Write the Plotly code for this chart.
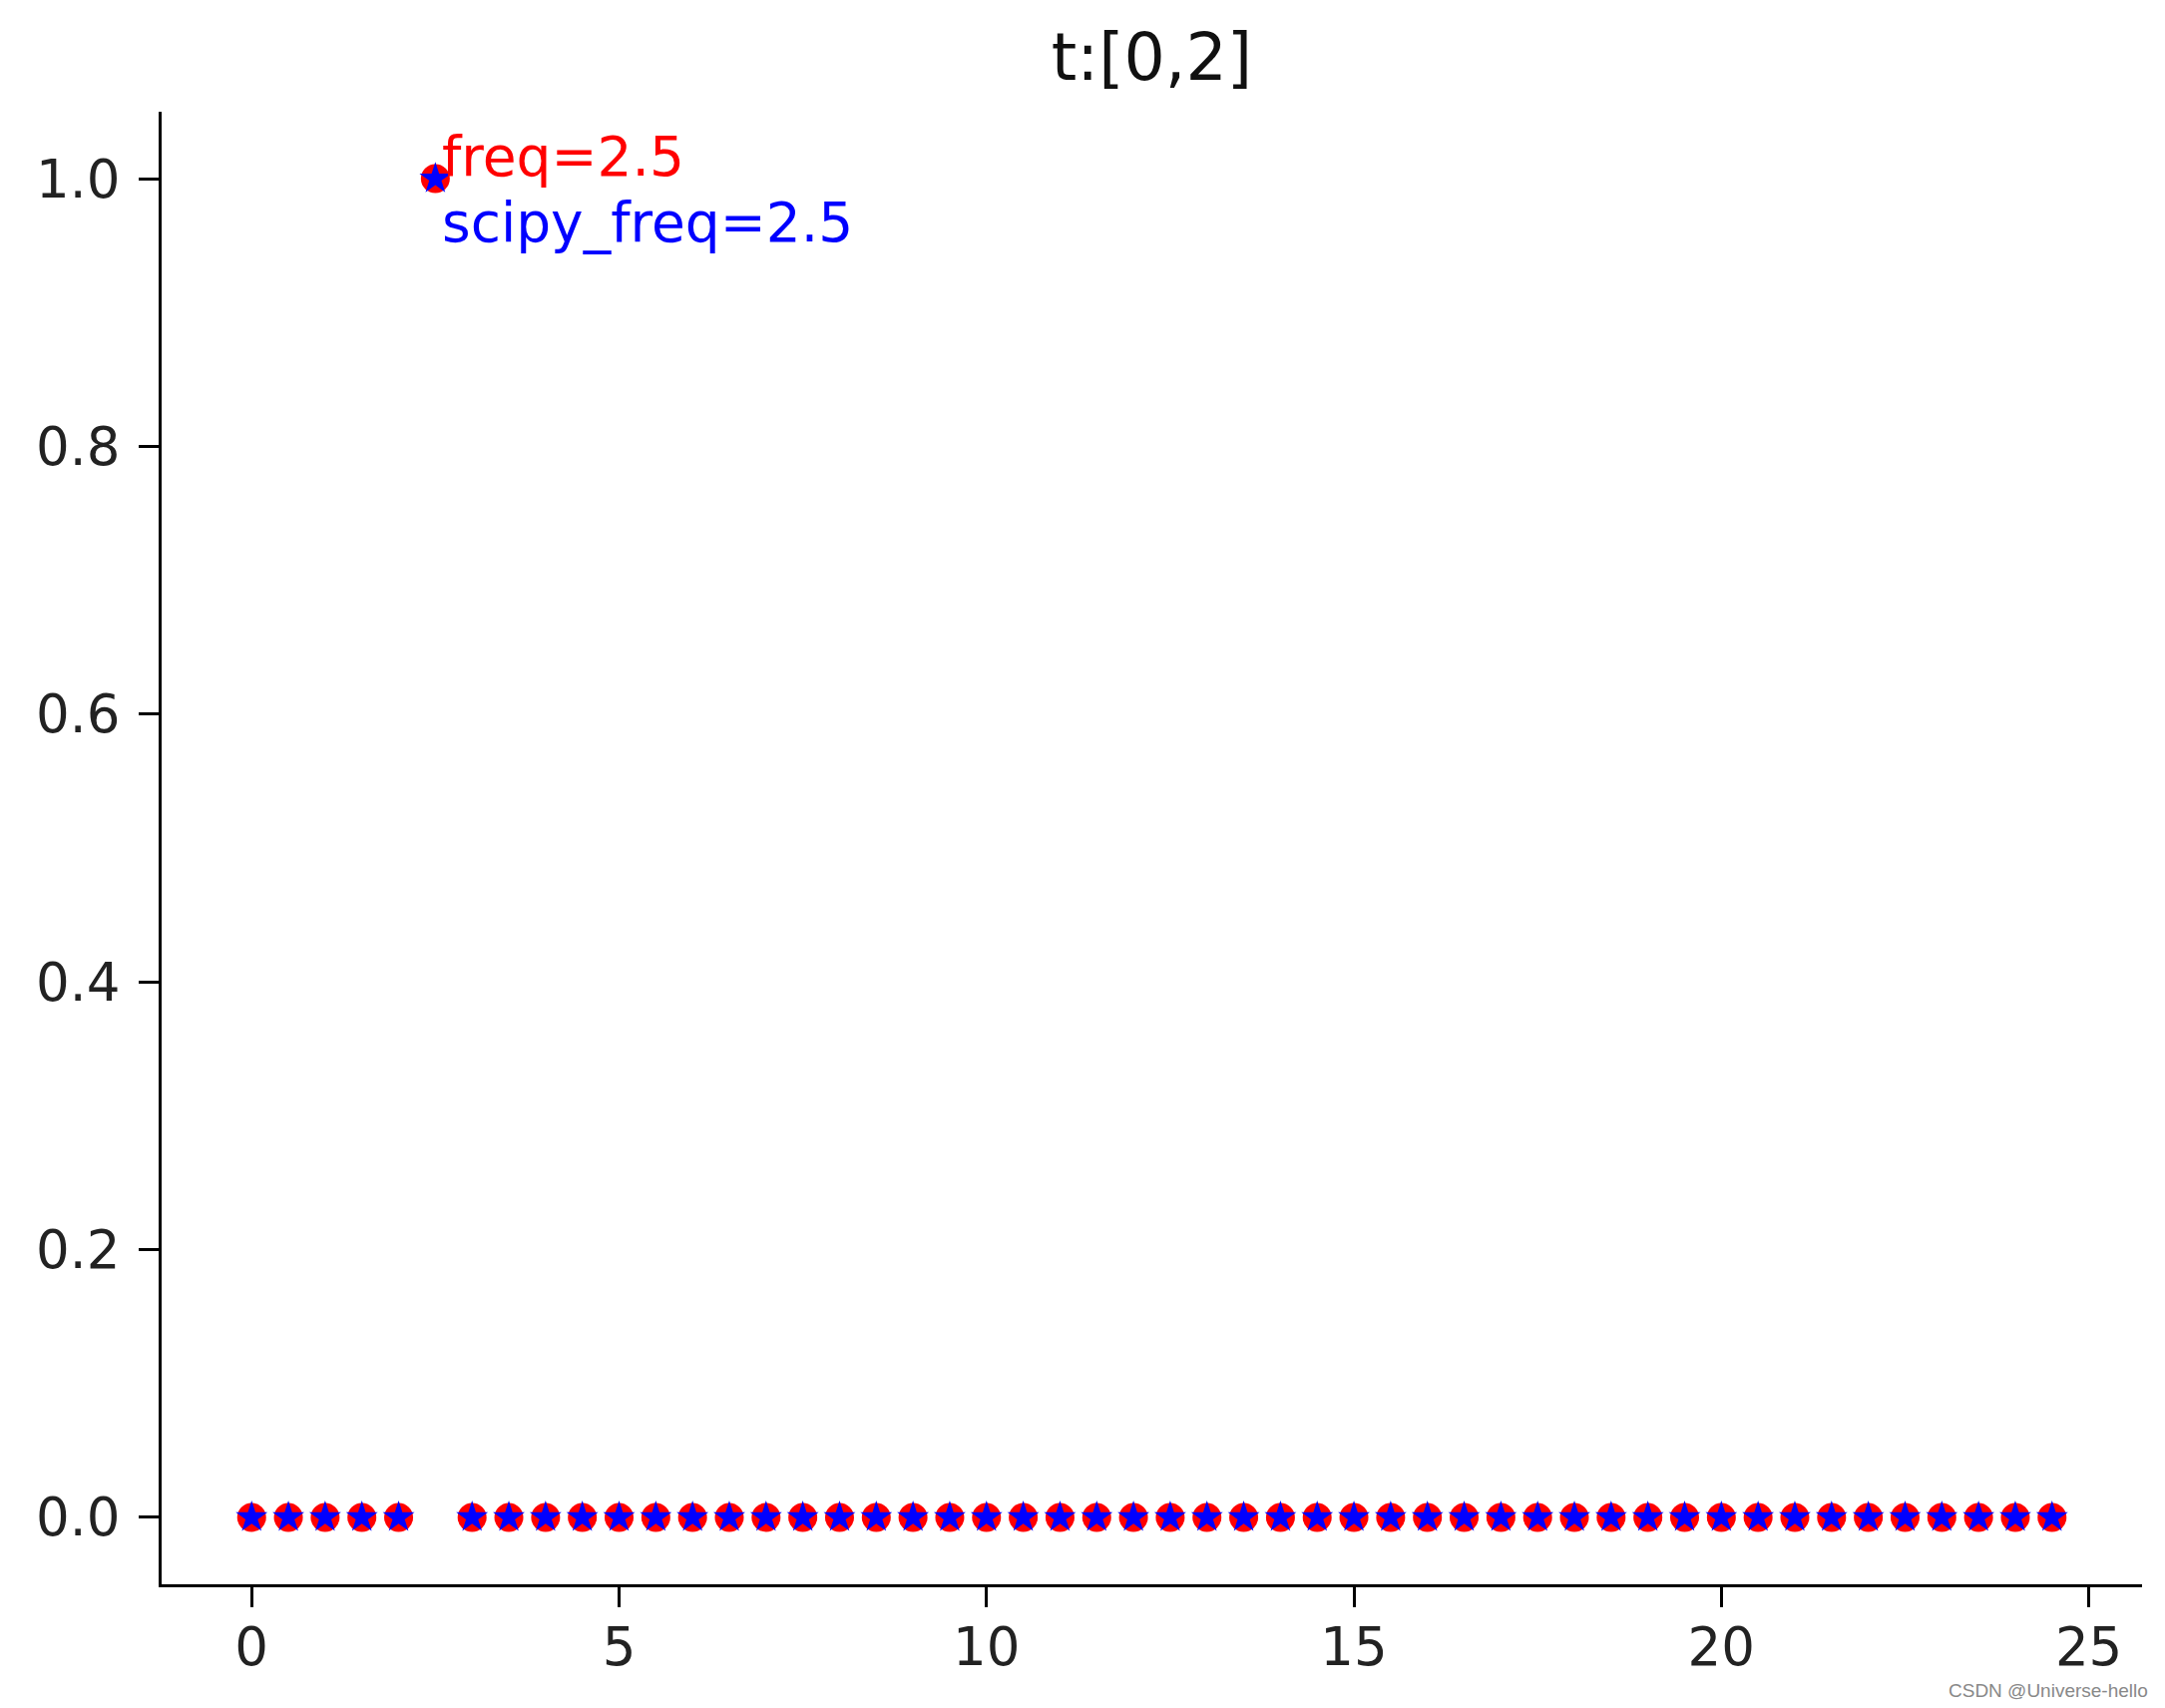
import plotly.graph_objects as go

# Data
x_vals = [i * 0.5 for i in range(50)]
freq_vals = [0, 0, 0, 0, 0, 1] + [0] * 44          # red circles
scipy_vals = [0, 0, 0, 0, 0, 1] + [0] * 44         # blue stars
x_ticks = [0, 5, 10, 15, 20, 25]
y_ticks = [0.0, 0.2, 0.4, 0.6, 0.8, 1.0]
y_tick_text = ["0.0", "0.2", "0.4", "0.6", "0.8", "1.0"]
title_text = "t:[0,2]"
freq_label = "freq=2.5"
scipy_label = "scipy_freq=2.5"
peak_x = 2.5
peak_y = 1.0
scipy_label_y = 0.95

W, H = 2170, 1712
FONT = "DejaVu Sans"

fig = go.Figure()
fig.add_trace(go.Scatter(
    x=x_vals, y=freq_vals, mode="markers",
    marker=dict(symbol="circle", size=29, color="red", line=dict(width=0)),
    showlegend=False,
))
fig.add_trace(go.Scatter(
    x=x_vals, y=scipy_vals, mode="markers",
    marker=dict(symbol="star", size=24, color="blue", line=dict(width=0)),
    showlegend=False,
))

fig.add_annotation(x=peak_x, y=peak_y, text=freq_label, showarrow=False,
                   xanchor="left", yanchor="middle", xshift=5, yshift=22,
                   font=dict(family=FONT, size=55, color="red"))
fig.add_annotation(x=peak_x, y=scipy_label_y, text=scipy_label, showarrow=False,
                   xanchor="left", yanchor="middle", xshift=5, yshift=23,
                   font=dict(family=FONT, size=55, color="blue"))
fig.add_annotation(xref="paper", yref="paper", x=1.0, y=0.0, xanchor="right", yanchor="top",
                   xshift=8, yshift=-94, text="CSDN @Universe-hello", showarrow=False,
                   font=dict(family="Liberation Sans", size=19, color="#888888"))

axis_common = dict(
    showline=True, linecolor="black", linewidth=3,
    ticks="outside", ticklen=20, tickwidth=3, tickcolor="black",
    showgrid=False, zeroline=False,
    tickfont=dict(family=FONT, size=53, color="#222222"),
)

fig.update_layout(
    width=W, height=H,
    margin=dict(l=162, r=23, t=112, b=124),
    paper_bgcolor="white", plot_bgcolor="white",
    title=dict(text=title_text, x=(162 + 2147) / 2 / W, xanchor="center",
               y=1 - 57 / H, yanchor="middle", yref="container",
               font=dict(family=FONT, size=65, color="#111111")),
    xaxis=dict(range=[-1.225, 25.725], tickvals=x_ticks, ticklabelstandoff=-6, **axis_common),
    yaxis=dict(range=[-0.05, 1.05], tickvals=y_ticks, ticktext=y_tick_text, ticklabelstandoff=8, **axis_common),
)

fig.write_html("out.html", config={"displayModeBar": False},
               post_script="document.body.style.margin='0';")
